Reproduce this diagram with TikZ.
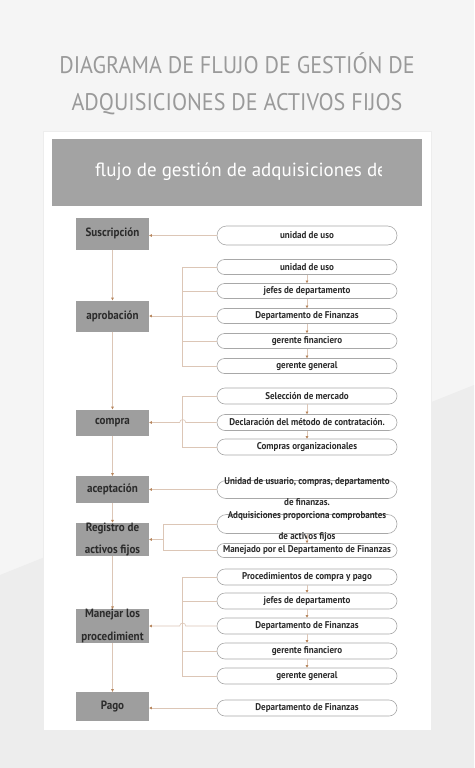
\documentclass[tikz,border=0pt]{standalone}
\usepackage{fontspec}
\setmainfont{PT Sans}[FakeStretch=0.92]
\newfontfamily\titlefont{PT Sans}[FakeStretch=0.92]
\newfontfamily\headfont{PT Sans}
\usetikzlibrary{positioning,arrows.meta,calc,shapes.misc}

\definecolor{pagegray}{HTML}{F5F5F5}
\definecolor{lowgray}{HTML}{EDEDED}
\definecolor{headgray}{HTML}{A3A3A3}
\definecolor{boxgray}{HTML}{9E9E9E}
\definecolor{darktext}{HTML}{2B2B2B}
\definecolor{itemline}{HTML}{A8A8A8}
\definecolor{linktan}{HTML}{DCC6B6}
\definecolor{tiptan}{HTML}{B8875E}
\definecolor{titlegray}{HTML}{9A9A9A}

\begin{document}
\begin{tikzpicture}[x=1pt,y=-1pt,
    % styles for the boxes and the lines
    step box/.style={fill=boxgray, text=darktext, minimum width=73pt, inner sep=0pt,
      align=center, font=\bfseries\fontsize{12}{22.5}\selectfont},
    item box/.style={rounded rectangle, draw=itemline, fill=white, line width=0.6pt,
      minimum width=180pt, minimum height=15pt, inner sep=0pt,
      font=\bfseries\fontsize{9.8}{21}\selectfont, text=darktext},
    link/.style={draw=linktan, line width=0.6pt,
      -{Triangle[length=2.6pt,width=2.6pt,color=tiptan]}},
    plain link/.style={draw=linktan, line width=0.6pt}
  ]

  % background and card
  \useasboundingbox (0,0) rectangle (474,768);
  \fill[pagegray] (0,0) rectangle (474,768);
  \fill[lowgray] (0,575) -- (474,385) -- (474,768) -- (0,768) -- cycle;
  \fill[white, draw=black!7] (43,131) rectangle (431,730);

  % title and header
  \node[text=titlegray, align=center, font=\titlefont\fontsize{24}{37}\selectfont] (title) at (237,83.5)
    {DIAGRAMA DE FLUJO DE GESTIÓN DE\\ADQUISICIONES DE ACTIVOS FIJOS};
  \node[fill=headgray, minimum width=370pt, minimum height=67pt] (head) at (237,172.5) {};
  \begin{scope}
    \clip (95,139) rectangle (381,206);
    \node[anchor=west, text=white, inner sep=0pt, font=\headfont\fontsize{19}{19}\selectfont] (headtext) at (95,172)
      {flujo de gestión de adquisiciones de};
  \end{scope}

  % steps on the left
  \node[step box, minimum height=32pt] (sus) at (112.5,233.5) {Suscripción};
  \node[step box, minimum height=31pt] (apr) at (112.5,316) {aprobación};
  \node[step box, minimum height=26pt] (com) at (112.5,422.5) {compra};
  \node[step box, minimum height=27pt] (ace) at (112.5,489.5) {aceptación};
  \node[step box, minimum height=31pt] (reg) at (112.5,539.5) {Registro de\\activos fijos};
  \node[step box, minimum height=30pt] (man) at (112.5,626) {Manejar los\\procedimient};
  \node[step box, minimum height=29pt] (pag) at (112.5,706.5) {Pago};

  % items on the right
  \node[item box, minimum height=19pt] (u0) at (307,235.5) {unidad de uso};

  \node[item box] (a1) at (307,267) {unidad de uso};
  \node[item box] (a2) at (307,291) {jefes de departamento};
  \node[item box] (a3) at (307,316) {Departamento de Finanzas};
  \node[item box] (a4) at (307,341) {gerente financiero};
  \node[item box] (a5) at (307,366) {gerente general};

  \node[item box, minimum height=16pt] (c1) at (307,396) {Selección de mercado};
  \node[item box, minimum height=16pt] (c2) at (307,422.5) {Declaración del método de contratación.};
  \node[item box, minimum height=16pt] (c3) at (307,447) {Compras organizacionales};

  \node[item box, minimum height=18pt,
    label={[font=\bfseries\fontsize{9.8}{21}\selectfont, text=darktext, align=center, yshift=-2pt]center:{Unidad de usuario, compras, departamento\\de finanzas.}}]
    (e1) at (307,489.5) {};

  \node[item box, minimum height=19pt,
    label={[font=\bfseries\fontsize{9.8}{21}\selectfont, text=darktext, align=center, yshift=-3pt]center:{Adquisiciones proporciona comprobantes\\de activos fijos}}]
    (r1) at (307,524) {};
  \node[item box, minimum height=14pt] (r2) at (307,550.5) {Manejado por el Departamento de Finanzas};

  \node[item box, minimum height=16pt] (m1) at (307,577) {Procedimientos de compra y pago};
  \node[item box, minimum height=16pt] (m2) at (307,601) {jefes de departamento};
  \node[item box, minimum height=16pt] (m3) at (307,626) {Departamento de Finanzas};
  \node[item box, minimum height=16pt] (m4) at (307,651) {gerente financiero};
  \node[item box, minimum height=16pt] (m5) at (307,676) {gerente general};

  \node[item box, minimum height=16pt] (p1) at (307,708) {Departamento de Finanzas};

  % flow down the left
  \foreach \a/\b in {sus/apr,apr/com,com/ace,ace/reg,reg/man,man/pag}
    \draw[link] (\a.south) -- (\b.north);

  % arrows inside the groups
  \foreach \a/\b in {a1/a2,a2/a3,a3/a4,a4/a5,c1/c2,c2/c3,r1/r2,m1/m2,m2/m3,m3/m4,m4/m5}
    \draw[link] (\a.south) -- (\b.north);

  % single links
  \draw[link] (u0.west) -- (u0.west -| sus.east);
  \draw[link] (e1.west) -- (e1.west -| ace.east);
  \draw[link] (p1.west) -- (p1.west -| pag.east);

  % brackets
  \draw[plain link] (a1.west) -- ++(-34,0) |- (a5.west);
  \foreach \n in {a2,a4}
    \draw[plain link] (\n.west) -- ++(-34,0);
  \draw[link] (a3.west) -- (apr.east);

  \draw[plain link] (c1.west) -- ++(-34,0) |- (c3.west);
  \draw[link] (c2.west) -- ++(-31,0) arc[start angle=0, end angle=180, radius=3pt] -- (com.east);

  \draw[plain link] (r1.west) -- ++(-53,0) |- (r2.west);
  \coordinate (rjoin) at ($(r1.west)+(-53,0)$);
  \draw[link] (rjoin |- reg.east) -- (reg.east);

  \draw[plain link] (m1.west) -- ++(-34,0) |- (m5.west);
  \foreach \n in {m2,m4}
    \draw[plain link] (\n.west) -- ++(-34,0);
  \draw[link] (m3.west) -- ++(-31,0) arc[start angle=0, end angle=180, radius=3pt] -- (man.east);
\end{tikzpicture}
\end{document}
